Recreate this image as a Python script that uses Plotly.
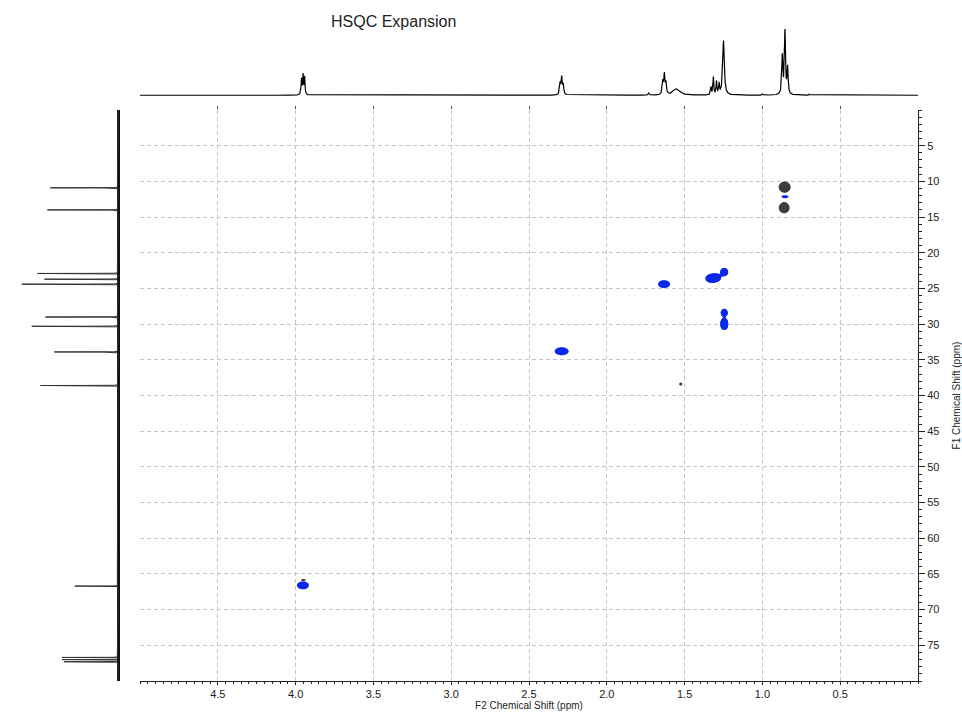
import numpy as np
import plotly.graph_objects as go

# ---------------- data ----------------
# 2D HSQC cross peaks: F2 (1H, ppm), F1 (13C, ppm), extents (ppm)
blue_h = [3.953, 2.290, 1.632, 1.333, 1.300, 1.245, 1.245, 1.245, 1.245, 0.855]
blue_c = [66.6, 33.8, 24.4, 23.6, 23.5, 22.7, 28.4, 29.7, 30.3, 12.15]
blue_wh = [0.077, 0.090, 0.077, 0.064, 0.064, 0.050, 0.045, 0.045, 0.045, 0.045]
blue_wc = [1.12, 1.12, 1.12, 1.12, 1.12, 1.12, 1.12, 1.0, 1.0, 0.42]

gray_h = [0.857, 0.860, 1.525, 3.950]
gray_c = [10.8, 13.7, 38.4, 65.85]
gray_wh = [0.077, 0.070, 0.020, 0.032]
gray_wc = [1.54, 1.54, 0.42, 0.28]

# 1H projection (top): position, height, half width
h_pos = [3.962, 3.952, 3.942, 2.300, 2.290, 2.280, 1.730, 1.640, 1.630, 1.620,
         1.560, 1.540, 1.330, 1.315, 1.295, 1.278, 1.250, 1.000, 0.872, 0.855,
         0.838, 0.700]
h_int = [0.22, 0.28, 0.25, 0.16, 0.24, 0.14, 0.03, 0.18, 0.28, 0.16,
         0.06, 0.05, 0.11, 0.25, 0.19, 0.15, 0.78, 0.015, 0.55, 0.90,
         0.38, 0.015]
h_hw = [0.003, 0.003, 0.003, 0.004, 0.004, 0.004, 0.004, 0.004, 0.004, 0.004,
        0.02, 0.02, 0.003, 0.003, 0.003, 0.003, 0.006, 0.003, 0.004, 0.004,
        0.004, 0.003]

# 13C projection (left): position, height
c_pos = [10.9, 14.0, 22.9, 23.7, 24.4, 29.0, 30.3, 33.9, 38.6, 66.7, 76.7, 77.0, 77.3]
c_int = [0.69, 0.72, 0.82, 0.75, 0.98, 0.74, 0.88, 0.65, 0.79, 0.44, 0.57, 0.57, 0.55]

x_ticks = [4.5, 4.0, 3.5, 3.0, 2.5, 2.0, 1.5, 1.0, 0.5]
y_ticks = [5, 10, 15, 20, 25, 30, 35, 40, 45, 50, 55, 60, 65, 70, 75]

# ---------------- figure ----------------
W, H = 962, 714
FONT = "Liberation Sans Narrow, Liberation Sans, Arial, sans-serif"
fig = go.Figure()

THR = 0.3
K = np.sqrt(2 * np.log(1 / THR))


def blob_traces(hs, cs, whs, wcs, color):
    sx = [w / 2 / K for w in whs]
    sy = [w / 2 / K for w in wcs]
    for i in range(len(hs)):
        xs = np.linspace(hs[i] - 1.5 * whs[i], hs[i] + 1.5 * whs[i], 61)
        ys = np.linspace(cs[i] - 1.5 * wcs[i], cs[i] + 1.5 * wcs[i], 61)
        X, Y = np.meshgrid(xs, ys)
        Z = np.zeros_like(X)
        for j in range(len(hs)):
            Z += np.exp(-0.5 * ((X - hs[j]) / sx[j]) ** 2 - 0.5 * ((Y - cs[j]) / sy[j]) ** 2)
        fig.add_trace(go.Contour(
            x=xs, y=ys, z=np.round(Z, 4), xaxis="x", yaxis="y",
            autocontour=False,
            contours=dict(start=THR, end=THR, size=1, coloring="fill", showlines=False),
            line=dict(width=0),
            colorscale=[[0, "rgba(0,0,0,0)"], [1, color]],
            showscale=False, hoverinfo="skip",
        ))


blob_traces(gray_h, gray_c, gray_wh, gray_wc, "rgb(62,62,62)")
blob_traces(blue_h, blue_c, blue_wh, blue_wc, "rgb(10,40,235)")

# top 1H spectrum
xh = np.linspace(0, 5, 5001)
sh = np.zeros_like(xh)
for p, a, g in zip(h_pos, h_int, h_hw):
    sh += a / (1 + ((xh - p) / g) ** 2)
fig.add_trace(go.Scatter(x=xh, y=sh, mode="lines", xaxis="x2", yaxis="y2",
                         line=dict(color="black", width=1.2), hoverinfo="skip"))

# left 13C spectrum
yc = np.linspace(0, 80, 16001)
sc = np.zeros_like(yc)
for p, a in zip(c_pos, c_int):
    sc += a / (1 + ((yc - p) / 0.008) ** 2)
fig.add_trace(go.Scatter(x=sc, y=yc, mode="lines", xaxis="x3", yaxis="y3",
                         line=dict(color="#333", width=1), hoverinfo="skip"))

# dummy for the top tick axis
fig.add_trace(go.Scatter(x=[], y=[], xaxis="x4", yaxis="y", showlegend=False))

xdom = [140 / W, 918 / W]
ydom = [1 - 681 / H, 1 - 110 / H]
grid = dict(showgrid=True, gridcolor="#c6c6c6", griddash="4px,3px", gridwidth=1)

fig.update_layout(
    width=W, height=H, margin=dict(l=0, r=0, t=0, b=0),
    paper_bgcolor="white", plot_bgcolor="white", showlegend=False,
    font=dict(family=FONT, color="#222", size=11),
    xaxis=dict(domain=xdom, range=[5, 0], anchor="y", tickmode="array",
               tickvals=x_ticks, ticktext=[f"{v:.1f}" for v in x_ticks],
               showline=True, linecolor="#222", linewidth=1, zeroline=False,
               ticks="outside", ticklen=3, tickcolor="#222",
               minor=dict(tickmode="linear", tick0=0, dtick=0.05, ticks="outside",
                          ticklen=2, tickcolor="#222", showgrid=False),
               title=dict(text="F2 Chemical Shift (ppm)", font=dict(size=10), standoff=0),
               tickfont=dict(size=11), **grid),
    yaxis=dict(domain=ydom, range=[80, 0], anchor="x", side="right", tickmode="array",
               tickvals=y_ticks, ticktext=[str(v) for v in y_ticks],
               showline=True, linecolor="#222", linewidth=1, zeroline=False,
               ticks="outside", ticklen=6, tickcolor="#222",
               minor=dict(tickmode="linear", tick0=0, dtick=1, ticks="outside",
                          ticklen=3, tickcolor="#222", showgrid=False),
               title=dict(text="F1 Chemical Shift (ppm)", font=dict(size=10), standoff=14),
               tickfont=dict(size=11), **grid),
    xaxis2=dict(domain=xdom, range=[5, 0], anchor="y2", visible=False),
    yaxis2=dict(domain=[1 - 97 / H, 1 - 15 / H], range=[-0.025, 1.15], anchor="x2",
                visible=False),
    xaxis3=dict(domain=[15 / W, 122 / W], range=[1.05, -0.04], anchor="y3",
                showticklabels=False, showgrid=False, showline=False, ticks="",
                zeroline=True, zerolinecolor="#111", zerolinewidth=2.5),
    yaxis3=dict(domain=ydom, range=[80, 0], anchor="x3", visible=False),
    xaxis4=dict(overlaying="x", side="top", anchor="y", range=[5, 0], tickmode="array",
                tickvals=x_ticks, showticklabels=False, showgrid=False, showline=False,
                zeroline=False, ticks="outside", ticklen=3, tickcolor="#555"),
    annotations=[dict(text="HSQC Expansion", x=393 / W, y=1 - 21 / H, xref="paper",
                      yref="paper", xanchor="center", yanchor="middle", showarrow=False,
                      font=dict(family="Liberation Sans, Arial, sans-serif", size=16,
                                color="#222"))],
)

fig.write_html("out.html")
